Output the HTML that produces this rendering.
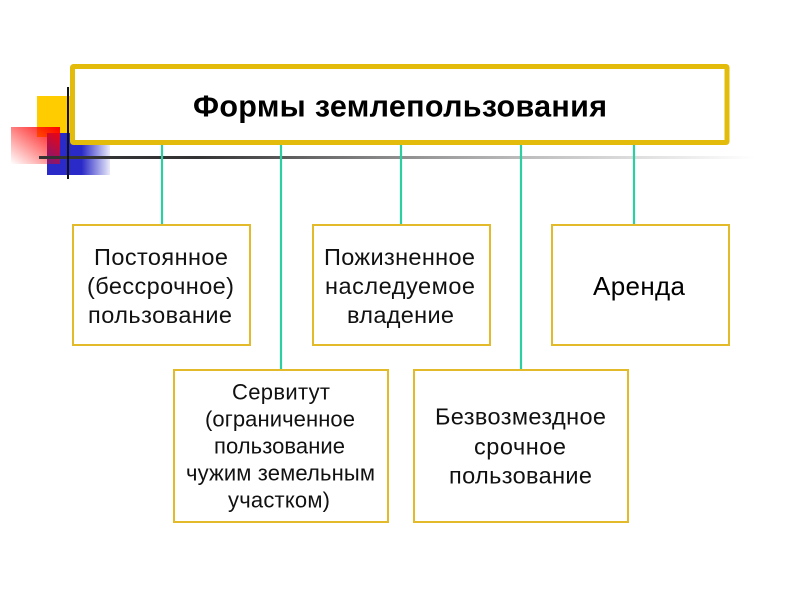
<!DOCTYPE html>
<html><head><meta charset="utf-8"><style>
html,body{margin:0;padding:0;background:#fff}
svg{display:block}
text{font-family:"Liberation Sans",sans-serif;fill:#000;text-anchor:middle}
.t{font-size:23.5px;fill:#111}
.s{font-size:22px;fill:#111}
</style></head><body>
<svg width="800" height="600" viewBox="0 0 800 600" xmlns="http://www.w3.org/2000/svg">
<defs>
<linearGradient id="b" x1="0" x2="1" y1="0" y2="0"><stop offset="0" stop-color="#2a2ac8"/><stop offset=".55" stop-color="#2a2ac8"/><stop offset="1" stop-color="#2a2ac8" stop-opacity=".1"/></linearGradient>
<linearGradient id="r" x1="1" y1="0" x2="0" y2="1"><stop offset="0" stop-color="#ff0000"/><stop offset="1" stop-color="#ff0000" stop-opacity="0"/></linearGradient>
<linearGradient id="l" x1="0" x2="1" y1="0" y2="0"><stop offset="0" stop-color="#333"/><stop offset=".22" stop-color="#333"/><stop offset=".48" stop-color="#888"/><stop offset=".67" stop-color="#bbb"/><stop offset=".83" stop-color="#ddd"/><stop offset="1" stop-color="#fff"/></linearGradient>
</defs>
<rect x="37" y="96" width="34" height="41" fill="#ffcc00"/>
<rect x="47" y="133" width="63" height="42" fill="url(#b)"/>
<rect x="11" y="127" width="49" height="37" fill="url(#r)"/>
<rect x="39" y="156" width="716" height="3" fill="url(#l)"/>
<rect x="67" y="87" width="2" height="92" fill="#111"/>
<g stroke="#2dcfa0" stroke-width="2.2" fill="none">
<path d="M162 143V225M281 143V371M401 143V225M521 143V371M634 143V225"/>
</g>
<rect x="72.5" y="66.5" width="654.5" height="76" rx="1" fill="#fff" stroke="#e3bb0a" stroke-width="5"/>
<g fill="#fff" stroke="#e3bb2a" stroke-width="2">
<rect x="73" y="225" width="177" height="120"/>
<rect x="313" y="225" width="177" height="120"/>
<rect x="552" y="225" width="177" height="120"/>
<rect x="174" y="370" width="214" height="152"/>
<rect x="414" y="370" width="214" height="152"/>
</g>
<text x="400" y="116.5" font-size="30.5" font-weight="bold" textLength="414">Формы землепользования</text>
<text class="t" x="161" y="265" textLength="134">Постоянное</text>
<text class="t" x="160.5" y="294" textLength="147">(бессрочное)</text>
<text class="t" x="160" y="323" textLength="144">пользование</text>
<text class="t" x="399.5" y="265" textLength="151">Пожизненное</text>
<text class="t" x="400" y="294" textLength="150">наследуемое</text>
<text class="t" x="400.5" y="323" textLength="107">владение</text>
<text x="639" y="295" font-size="26" fill="#111" textLength="92">Аренда</text>
<text class="s" x="281" y="399.5" textLength="98">Сервитут</text>
<text class="s" x="280" y="426.5" textLength="150">(ограниченное</text>
<text class="s" x="279.5" y="453.5" textLength="131">пользование</text>
<text class="s" x="280.5" y="480.5" textLength="189">чужим земельным</text>
<text class="s" x="279" y="507.5" textLength="102">участком)</text>
<text class="t" x="520.5" y="424.5" textLength="171">Безвозмездное</text>
<text class="t" x="520" y="454.5" textLength="92">срочное</text>
<text class="t" x="520.5" y="483.5" textLength="143">пользование</text>
</svg>
</body></html>
